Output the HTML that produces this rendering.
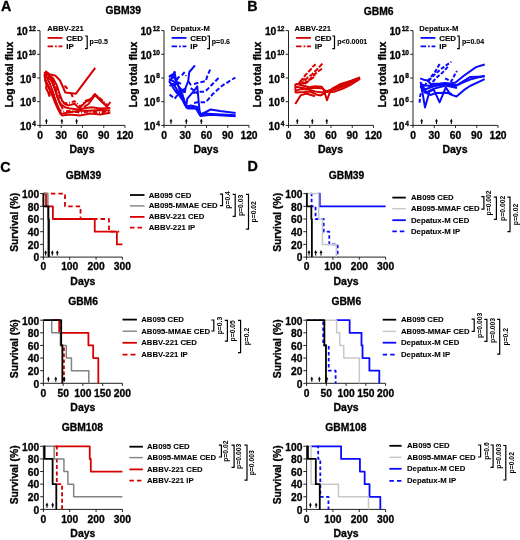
<!DOCTYPE html>
<html><head><meta charset="utf-8"><style>
html,body{margin:0;padding:0;background:#fff;}
svg{display:block;font-family:'Liberation Sans', Arial, sans-serif;}
text{stroke:#000;stroke-width:0.3px;}
text.sm{stroke-width:0.08px;}
text.pv{stroke:none;}
text.md{stroke-width:0.15px;}
</style></head><body>
<svg width="520" height="540" viewBox="0 0 520 540">
<rect width="520" height="540" fill="#fff"/>
<text x="0.90" y="11.00" font-size="14.3" text-anchor="start" font-weight="bold" fill="#000">A</text>
<text x="247.30" y="11.40" font-size="14.3" text-anchor="start" font-weight="bold" fill="#000">B</text>
<text x="0.20" y="171.60" font-size="14.3" text-anchor="start" font-weight="bold" fill="#000">C</text>
<text x="247.40" y="171.40" font-size="14.3" text-anchor="start" font-weight="bold" fill="#000">D</text>
<text x="123.20" y="14.40" font-size="10.3" text-anchor="middle" font-weight="bold" fill="#000">GBM39</text>
<text x="378.70" y="14.70" font-size="10.3" text-anchor="middle" font-weight="bold" fill="#000">GBM6</text>
<line x1="40.00" y1="30.60" x2="40.00" y2="125.90" stroke="#222" stroke-width="1"/>
<line x1="39.50" y1="125.40" x2="125.00" y2="125.40" stroke="#222" stroke-width="1"/>
<line x1="37.20" y1="30.60" x2="40.00" y2="30.60" stroke="#222" stroke-width="1"/>
<text x="36.00" y="35.10" font-size="10.3" text-anchor="end" font-weight="bold">10<tspan font-size="6.6" dx="0.8" dy="-4.1">12</tspan></text>
<line x1="37.20" y1="54.30" x2="40.00" y2="54.30" stroke="#222" stroke-width="1"/>
<text x="36.00" y="58.80" font-size="10.3" text-anchor="end" font-weight="bold">10<tspan font-size="6.6" dx="0.8" dy="-4.1">10</tspan></text>
<line x1="37.20" y1="78.00" x2="40.00" y2="78.00" stroke="#222" stroke-width="1"/>
<text x="36.00" y="82.50" font-size="10.3" text-anchor="end" font-weight="bold">10<tspan font-size="6.6" dx="0.8" dy="-4.1">8</tspan></text>
<line x1="37.20" y1="101.70" x2="40.00" y2="101.70" stroke="#222" stroke-width="1"/>
<text x="36.00" y="106.20" font-size="10.3" text-anchor="end" font-weight="bold">10<tspan font-size="6.6" dx="0.8" dy="-4.1">6</tspan></text>
<line x1="37.20" y1="125.40" x2="40.00" y2="125.40" stroke="#222" stroke-width="1"/>
<text x="36.00" y="129.90" font-size="10.3" text-anchor="end" font-weight="bold">10<tspan font-size="6.6" dx="0.8" dy="-4.1">4</tspan></text>
<line x1="40.00" y1="125.40" x2="40.00" y2="127.90" stroke="#222" stroke-width="1"/>
<text x="40.00" y="138.50" font-size="10.3" text-anchor="middle" font-weight="bold" fill="#000">0</text>
<line x1="61.25" y1="125.40" x2="61.25" y2="127.90" stroke="#222" stroke-width="1"/>
<text x="61.25" y="138.50" font-size="10.3" text-anchor="middle" font-weight="bold" fill="#000">30</text>
<line x1="82.50" y1="125.40" x2="82.50" y2="127.90" stroke="#222" stroke-width="1"/>
<text x="82.50" y="138.50" font-size="10.3" text-anchor="middle" font-weight="bold" fill="#000">60</text>
<line x1="103.75" y1="125.40" x2="103.75" y2="127.90" stroke="#222" stroke-width="1"/>
<text x="103.75" y="138.50" font-size="10.3" text-anchor="middle" font-weight="bold" fill="#000">90</text>
<line x1="125.00" y1="125.40" x2="125.00" y2="127.90" stroke="#222" stroke-width="1"/>
<text x="125.00" y="138.50" font-size="10.3" text-anchor="middle" font-weight="bold" fill="#000">120</text>
<text x="82.00" y="152.60" font-size="10.5" text-anchor="middle" font-weight="bold" fill="#000">Days</text>
<text x="12.80" y="74.60" font-size="10.5" text-anchor="middle" font-weight="bold" fill="#000" transform="rotate(-90 12.80 74.60)">Log total flux</text>
<text x="47.30" y="31.40" font-size="7.65" text-anchor="start" font-weight="bold" fill="#000" class="sm">ABBV-221</text>
<line x1="47.60" y1="37.90" x2="62.40" y2="37.90" stroke="#d60000" stroke-width="1.8"/>
<polyline points="47.60,46.30 62.40,46.30" fill="none" stroke="#d60000" stroke-width="1.8" stroke-linejoin="round" stroke-dasharray="5.5 2 1.7 1.7"/>
<text x="66.20" y="40.50" font-size="7.9" text-anchor="start" font-weight="bold" fill="#000" class="md">CED</text>
<text x="66.20" y="49.00" font-size="7.9" text-anchor="start" font-weight="bold" fill="#000" class="md">IP</text>
<path d="M85.00,36.0 H87.20 V48.6 H85.00" fill="none" stroke="#000" stroke-width="1.2"/>
<text x="89.60" y="43.60" font-size="7.05" text-anchor="start" font-weight="bold" fill="#000" class="sm">p=0.5</text>
<line x1="164.00" y1="30.60" x2="164.00" y2="125.90" stroke="#222" stroke-width="1"/>
<line x1="163.50" y1="125.40" x2="249.00" y2="125.40" stroke="#222" stroke-width="1"/>
<line x1="161.20" y1="30.60" x2="164.00" y2="30.60" stroke="#222" stroke-width="1"/>
<text x="160.00" y="35.10" font-size="10.3" text-anchor="end" font-weight="bold">10<tspan font-size="6.6" dx="0.8" dy="-4.1">12</tspan></text>
<line x1="161.20" y1="54.30" x2="164.00" y2="54.30" stroke="#222" stroke-width="1"/>
<text x="160.00" y="58.80" font-size="10.3" text-anchor="end" font-weight="bold">10<tspan font-size="6.6" dx="0.8" dy="-4.1">10</tspan></text>
<line x1="161.20" y1="78.00" x2="164.00" y2="78.00" stroke="#222" stroke-width="1"/>
<text x="160.00" y="82.50" font-size="10.3" text-anchor="end" font-weight="bold">10<tspan font-size="6.6" dx="0.8" dy="-4.1">8</tspan></text>
<line x1="161.20" y1="101.70" x2="164.00" y2="101.70" stroke="#222" stroke-width="1"/>
<text x="160.00" y="106.20" font-size="10.3" text-anchor="end" font-weight="bold">10<tspan font-size="6.6" dx="0.8" dy="-4.1">6</tspan></text>
<line x1="161.20" y1="125.40" x2="164.00" y2="125.40" stroke="#222" stroke-width="1"/>
<text x="160.00" y="129.90" font-size="10.3" text-anchor="end" font-weight="bold">10<tspan font-size="6.6" dx="0.8" dy="-4.1">4</tspan></text>
<line x1="164.00" y1="125.40" x2="164.00" y2="127.90" stroke="#222" stroke-width="1"/>
<text x="164.00" y="138.50" font-size="10.3" text-anchor="middle" font-weight="bold" fill="#000">0</text>
<line x1="185.25" y1="125.40" x2="185.25" y2="127.90" stroke="#222" stroke-width="1"/>
<text x="185.25" y="138.50" font-size="10.3" text-anchor="middle" font-weight="bold" fill="#000">30</text>
<line x1="206.50" y1="125.40" x2="206.50" y2="127.90" stroke="#222" stroke-width="1"/>
<text x="206.50" y="138.50" font-size="10.3" text-anchor="middle" font-weight="bold" fill="#000">60</text>
<line x1="227.75" y1="125.40" x2="227.75" y2="127.90" stroke="#222" stroke-width="1"/>
<text x="227.75" y="138.50" font-size="10.3" text-anchor="middle" font-weight="bold" fill="#000">90</text>
<line x1="249.00" y1="125.40" x2="249.00" y2="127.90" stroke="#222" stroke-width="1"/>
<text x="249.00" y="138.50" font-size="10.3" text-anchor="middle" font-weight="bold" fill="#000">120</text>
<text x="206.00" y="152.60" font-size="10.5" text-anchor="middle" font-weight="bold" fill="#000">Days</text>
<text x="136.80" y="74.60" font-size="10.5" text-anchor="middle" font-weight="bold" fill="#000" transform="rotate(-90 136.80 74.60)">Log total flux</text>
<text x="170.80" y="31.40" font-size="7.65" text-anchor="start" font-weight="bold" fill="#000" class="sm">Depatux-M</text>
<line x1="171.60" y1="37.90" x2="186.40" y2="37.90" stroke="#0a0aff" stroke-width="1.8"/>
<polyline points="171.60,46.30 186.40,46.30" fill="none" stroke="#0a0aff" stroke-width="1.8" stroke-linejoin="round" stroke-dasharray="5.5 2 1.7 1.7"/>
<text x="190.20" y="40.50" font-size="7.9" text-anchor="start" font-weight="bold" fill="#000" class="md">CED</text>
<text x="190.20" y="49.00" font-size="7.9" text-anchor="start" font-weight="bold" fill="#000" class="md">IP</text>
<path d="M207.20,36.0 H209.40 V48.6 H207.20" fill="none" stroke="#000" stroke-width="1.2"/>
<text x="211.80" y="43.60" font-size="7.05" text-anchor="start" font-weight="bold" fill="#000" class="sm">p=0.6</text>
<line x1="288.50" y1="30.60" x2="288.50" y2="125.90" stroke="#222" stroke-width="1"/>
<line x1="288.00" y1="125.40" x2="373.50" y2="125.40" stroke="#222" stroke-width="1"/>
<line x1="285.70" y1="30.60" x2="288.50" y2="30.60" stroke="#222" stroke-width="1"/>
<text x="284.50" y="35.10" font-size="10.3" text-anchor="end" font-weight="bold">10<tspan font-size="6.6" dx="0.8" dy="-4.1">12</tspan></text>
<line x1="285.70" y1="54.30" x2="288.50" y2="54.30" stroke="#222" stroke-width="1"/>
<text x="284.50" y="58.80" font-size="10.3" text-anchor="end" font-weight="bold">10<tspan font-size="6.6" dx="0.8" dy="-4.1">10</tspan></text>
<line x1="285.70" y1="78.00" x2="288.50" y2="78.00" stroke="#222" stroke-width="1"/>
<text x="284.50" y="82.50" font-size="10.3" text-anchor="end" font-weight="bold">10<tspan font-size="6.6" dx="0.8" dy="-4.1">8</tspan></text>
<line x1="285.70" y1="101.70" x2="288.50" y2="101.70" stroke="#222" stroke-width="1"/>
<text x="284.50" y="106.20" font-size="10.3" text-anchor="end" font-weight="bold">10<tspan font-size="6.6" dx="0.8" dy="-4.1">6</tspan></text>
<line x1="285.70" y1="125.40" x2="288.50" y2="125.40" stroke="#222" stroke-width="1"/>
<text x="284.50" y="129.90" font-size="10.3" text-anchor="end" font-weight="bold">10<tspan font-size="6.6" dx="0.8" dy="-4.1">4</tspan></text>
<line x1="288.50" y1="125.40" x2="288.50" y2="127.90" stroke="#222" stroke-width="1"/>
<text x="288.50" y="138.50" font-size="10.3" text-anchor="middle" font-weight="bold" fill="#000">0</text>
<line x1="309.75" y1="125.40" x2="309.75" y2="127.90" stroke="#222" stroke-width="1"/>
<text x="309.75" y="138.50" font-size="10.3" text-anchor="middle" font-weight="bold" fill="#000">30</text>
<line x1="331.00" y1="125.40" x2="331.00" y2="127.90" stroke="#222" stroke-width="1"/>
<text x="331.00" y="138.50" font-size="10.3" text-anchor="middle" font-weight="bold" fill="#000">60</text>
<line x1="352.25" y1="125.40" x2="352.25" y2="127.90" stroke="#222" stroke-width="1"/>
<text x="352.25" y="138.50" font-size="10.3" text-anchor="middle" font-weight="bold" fill="#000">90</text>
<line x1="373.50" y1="125.40" x2="373.50" y2="127.90" stroke="#222" stroke-width="1"/>
<text x="373.50" y="138.50" font-size="10.3" text-anchor="middle" font-weight="bold" fill="#000">120</text>
<text x="330.50" y="152.60" font-size="10.5" text-anchor="middle" font-weight="bold" fill="#000">Days</text>
<text x="261.30" y="74.60" font-size="10.5" text-anchor="middle" font-weight="bold" fill="#000" transform="rotate(-90 261.30 74.60)">Log total flux</text>
<text x="294.50" y="31.40" font-size="7.65" text-anchor="start" font-weight="bold" fill="#000" class="sm">ABBV-221</text>
<line x1="296.10" y1="37.90" x2="310.90" y2="37.90" stroke="#d60000" stroke-width="1.8"/>
<polyline points="296.10,46.30 310.90,46.30" fill="none" stroke="#d60000" stroke-width="1.8" stroke-linejoin="round" stroke-dasharray="5.5 2 1.7 1.7"/>
<text x="314.70" y="40.50" font-size="7.9" text-anchor="start" font-weight="bold" fill="#000" class="md">CED</text>
<text x="314.70" y="49.00" font-size="7.9" text-anchor="start" font-weight="bold" fill="#000" class="md">IP</text>
<path d="M332.30,36.0 H334.50 V48.6 H332.30" fill="none" stroke="#000" stroke-width="1.2"/>
<text x="337.30" y="43.60" font-size="7.05" text-anchor="start" font-weight="bold" fill="#000" class="sm">p&lt;0.0001</text>
<line x1="413.00" y1="30.60" x2="413.00" y2="125.90" stroke="#222" stroke-width="1"/>
<line x1="412.50" y1="125.40" x2="498.00" y2="125.40" stroke="#222" stroke-width="1"/>
<line x1="410.20" y1="30.60" x2="413.00" y2="30.60" stroke="#222" stroke-width="1"/>
<text x="409.00" y="35.10" font-size="10.3" text-anchor="end" font-weight="bold">10<tspan font-size="6.6" dx="0.8" dy="-4.1">12</tspan></text>
<line x1="410.20" y1="54.30" x2="413.00" y2="54.30" stroke="#222" stroke-width="1"/>
<text x="409.00" y="58.80" font-size="10.3" text-anchor="end" font-weight="bold">10<tspan font-size="6.6" dx="0.8" dy="-4.1">10</tspan></text>
<line x1="410.20" y1="78.00" x2="413.00" y2="78.00" stroke="#222" stroke-width="1"/>
<text x="409.00" y="82.50" font-size="10.3" text-anchor="end" font-weight="bold">10<tspan font-size="6.6" dx="0.8" dy="-4.1">8</tspan></text>
<line x1="410.20" y1="101.70" x2="413.00" y2="101.70" stroke="#222" stroke-width="1"/>
<text x="409.00" y="106.20" font-size="10.3" text-anchor="end" font-weight="bold">10<tspan font-size="6.6" dx="0.8" dy="-4.1">6</tspan></text>
<line x1="410.20" y1="125.40" x2="413.00" y2="125.40" stroke="#222" stroke-width="1"/>
<text x="409.00" y="129.90" font-size="10.3" text-anchor="end" font-weight="bold">10<tspan font-size="6.6" dx="0.8" dy="-4.1">4</tspan></text>
<line x1="413.00" y1="125.40" x2="413.00" y2="127.90" stroke="#222" stroke-width="1"/>
<text x="413.00" y="138.50" font-size="10.3" text-anchor="middle" font-weight="bold" fill="#000">0</text>
<line x1="434.25" y1="125.40" x2="434.25" y2="127.90" stroke="#222" stroke-width="1"/>
<text x="434.25" y="138.50" font-size="10.3" text-anchor="middle" font-weight="bold" fill="#000">30</text>
<line x1="455.50" y1="125.40" x2="455.50" y2="127.90" stroke="#222" stroke-width="1"/>
<text x="455.50" y="138.50" font-size="10.3" text-anchor="middle" font-weight="bold" fill="#000">60</text>
<line x1="476.75" y1="125.40" x2="476.75" y2="127.90" stroke="#222" stroke-width="1"/>
<text x="476.75" y="138.50" font-size="10.3" text-anchor="middle" font-weight="bold" fill="#000">90</text>
<line x1="498.00" y1="125.40" x2="498.00" y2="127.90" stroke="#222" stroke-width="1"/>
<text x="498.00" y="138.50" font-size="10.3" text-anchor="middle" font-weight="bold" fill="#000">120</text>
<text x="455.00" y="152.60" font-size="10.5" text-anchor="middle" font-weight="bold" fill="#000">Days</text>
<text x="385.80" y="74.60" font-size="10.5" text-anchor="middle" font-weight="bold" fill="#000" transform="rotate(-90 385.80 74.60)">Log total flux</text>
<text x="419.30" y="31.40" font-size="7.65" text-anchor="start" font-weight="bold" fill="#000" class="sm">Depatux-M</text>
<line x1="420.60" y1="37.90" x2="435.40" y2="37.90" stroke="#0a0aff" stroke-width="1.8"/>
<polyline points="420.60,46.30 435.40,46.30" fill="none" stroke="#0a0aff" stroke-width="1.8" stroke-linejoin="round" stroke-dasharray="5.5 2 1.7 1.7"/>
<text x="439.20" y="40.50" font-size="7.9" text-anchor="start" font-weight="bold" fill="#000" class="md">CED</text>
<text x="439.20" y="49.00" font-size="7.9" text-anchor="start" font-weight="bold" fill="#000" class="md">IP</text>
<path d="M457.00,36.0 H459.20 V48.6 H457.00" fill="none" stroke="#000" stroke-width="1.2"/>
<text x="462.00" y="43.60" font-size="7.05" text-anchor="start" font-weight="bold" fill="#000" class="sm">p=0.04</text>
<path d="M46.40,118.70 L47.90,121.60 L44.90,121.60 Z" fill="#000"/>
<line x1="46.40" y1="121.00" x2="46.40" y2="124.00" stroke="#000" stroke-width="1.1"/>
<path d="M61.90,118.70 L63.40,121.60 L60.40,121.60 Z" fill="#000"/>
<line x1="61.90" y1="121.00" x2="61.90" y2="124.00" stroke="#000" stroke-width="1.1"/>
<path d="M76.60,118.70 L78.10,121.60 L75.10,121.60 Z" fill="#000"/>
<line x1="76.60" y1="121.00" x2="76.60" y2="124.00" stroke="#000" stroke-width="1.1"/>
<path d="M171.00,118.70 L172.50,121.60 L169.50,121.60 Z" fill="#000"/>
<line x1="171.00" y1="121.00" x2="171.00" y2="124.00" stroke="#000" stroke-width="1.1"/>
<path d="M186.30,118.70 L187.80,121.60 L184.80,121.60 Z" fill="#000"/>
<line x1="186.30" y1="121.00" x2="186.30" y2="124.00" stroke="#000" stroke-width="1.1"/>
<path d="M201.30,118.70 L202.80,121.60 L199.80,121.60 Z" fill="#000"/>
<line x1="201.30" y1="121.00" x2="201.30" y2="124.00" stroke="#000" stroke-width="1.1"/>
<path d="M297.30,118.70 L298.80,121.60 L295.80,121.60 Z" fill="#000"/>
<line x1="297.30" y1="121.00" x2="297.30" y2="124.00" stroke="#000" stroke-width="1.1"/>
<path d="M312.30,118.70 L313.80,121.60 L310.80,121.60 Z" fill="#000"/>
<line x1="312.30" y1="121.00" x2="312.30" y2="124.00" stroke="#000" stroke-width="1.1"/>
<path d="M326.80,118.70 L328.30,121.60 L325.30,121.60 Z" fill="#000"/>
<line x1="326.80" y1="121.00" x2="326.80" y2="124.00" stroke="#000" stroke-width="1.1"/>
<path d="M421.70,118.70 L423.20,121.60 L420.20,121.60 Z" fill="#000"/>
<line x1="421.70" y1="121.00" x2="421.70" y2="124.00" stroke="#000" stroke-width="1.1"/>
<path d="M436.50,118.70 L438.00,121.60 L435.00,121.60 Z" fill="#000"/>
<line x1="436.50" y1="121.00" x2="436.50" y2="124.00" stroke="#000" stroke-width="1.1"/>
<path d="M451.30,118.70 L452.80,121.60 L449.80,121.60 Z" fill="#000"/>
<line x1="451.30" y1="121.00" x2="451.30" y2="124.00" stroke="#000" stroke-width="1.1"/>
<line x1="43.40" y1="193.10" x2="43.40" y2="257.60" stroke="#222" stroke-width="1"/>
<line x1="42.90" y1="257.10" x2="122.40" y2="257.10" stroke="#222" stroke-width="1"/>
<line x1="40.20" y1="193.60" x2="43.40" y2="193.60" stroke="#222" stroke-width="1"/>
<text x="39.20" y="197.90" font-size="10.3" text-anchor="end" font-weight="bold" fill="#000">100</text>
<line x1="40.20" y1="206.30" x2="43.40" y2="206.30" stroke="#222" stroke-width="1"/>
<text x="39.20" y="210.60" font-size="10.3" text-anchor="end" font-weight="bold" fill="#000">80</text>
<line x1="40.20" y1="219.00" x2="43.40" y2="219.00" stroke="#222" stroke-width="1"/>
<text x="39.20" y="223.30" font-size="10.3" text-anchor="end" font-weight="bold" fill="#000">60</text>
<line x1="40.20" y1="231.70" x2="43.40" y2="231.70" stroke="#222" stroke-width="1"/>
<text x="39.20" y="236.00" font-size="10.3" text-anchor="end" font-weight="bold" fill="#000">40</text>
<line x1="40.20" y1="244.40" x2="43.40" y2="244.40" stroke="#222" stroke-width="1"/>
<text x="39.20" y="248.70" font-size="10.3" text-anchor="end" font-weight="bold" fill="#000">20</text>
<line x1="40.20" y1="257.10" x2="43.40" y2="257.10" stroke="#222" stroke-width="1"/>
<text x="39.20" y="261.40" font-size="10.3" text-anchor="end" font-weight="bold" fill="#000">0</text>
<line x1="43.40" y1="257.10" x2="43.40" y2="259.70" stroke="#222" stroke-width="1"/>
<text x="43.40" y="270.40" font-size="10.3" text-anchor="middle" font-weight="bold" fill="#000">0</text>
<line x1="69.73" y1="257.10" x2="69.73" y2="259.70" stroke="#222" stroke-width="1"/>
<text x="69.73" y="270.40" font-size="10.3" text-anchor="middle" font-weight="bold" fill="#000">100</text>
<line x1="96.07" y1="257.10" x2="96.07" y2="259.70" stroke="#222" stroke-width="1"/>
<text x="96.07" y="270.40" font-size="10.3" text-anchor="middle" font-weight="bold" fill="#000">200</text>
<line x1="122.40" y1="257.10" x2="122.40" y2="259.70" stroke="#222" stroke-width="1"/>
<text x="122.40" y="270.40" font-size="10.3" text-anchor="middle" font-weight="bold" fill="#000">300</text>
<text x="82.90" y="284.90" font-size="10.5" text-anchor="middle" font-weight="bold" fill="#000">Days</text>
<text x="18.00" y="222.35" font-size="10.3" text-anchor="middle" font-weight="bold" fill="#000" transform="rotate(-90 18.00 222.35)">Survival (%)</text>
<text x="83.40" y="178.60" font-size="10.3" text-anchor="middle" font-weight="bold" fill="#000">GBM39</text>
<line x1="43.40" y1="319.70" x2="43.40" y2="383.80" stroke="#222" stroke-width="1"/>
<line x1="42.90" y1="383.30" x2="122.40" y2="383.30" stroke="#222" stroke-width="1"/>
<line x1="40.20" y1="320.20" x2="43.40" y2="320.20" stroke="#222" stroke-width="1"/>
<text x="39.20" y="324.50" font-size="10.3" text-anchor="end" font-weight="bold" fill="#000">100</text>
<line x1="40.20" y1="332.82" x2="43.40" y2="332.82" stroke="#222" stroke-width="1"/>
<text x="39.20" y="337.12" font-size="10.3" text-anchor="end" font-weight="bold" fill="#000">80</text>
<line x1="40.20" y1="345.44" x2="43.40" y2="345.44" stroke="#222" stroke-width="1"/>
<text x="39.20" y="349.74" font-size="10.3" text-anchor="end" font-weight="bold" fill="#000">60</text>
<line x1="40.20" y1="358.06" x2="43.40" y2="358.06" stroke="#222" stroke-width="1"/>
<text x="39.20" y="362.36" font-size="10.3" text-anchor="end" font-weight="bold" fill="#000">40</text>
<line x1="40.20" y1="370.68" x2="43.40" y2="370.68" stroke="#222" stroke-width="1"/>
<text x="39.20" y="374.98" font-size="10.3" text-anchor="end" font-weight="bold" fill="#000">20</text>
<line x1="40.20" y1="383.30" x2="43.40" y2="383.30" stroke="#222" stroke-width="1"/>
<text x="39.20" y="387.60" font-size="10.3" text-anchor="end" font-weight="bold" fill="#000">0</text>
<line x1="43.40" y1="383.30" x2="43.40" y2="385.90" stroke="#222" stroke-width="1"/>
<text x="43.40" y="396.60" font-size="10.3" text-anchor="middle" font-weight="bold" fill="#000">0</text>
<line x1="63.15" y1="383.30" x2="63.15" y2="385.90" stroke="#222" stroke-width="1"/>
<text x="63.15" y="396.60" font-size="10.3" text-anchor="middle" font-weight="bold" fill="#000">50</text>
<line x1="82.90" y1="383.30" x2="82.90" y2="385.90" stroke="#222" stroke-width="1"/>
<text x="82.90" y="396.60" font-size="10.3" text-anchor="middle" font-weight="bold" fill="#000">100</text>
<line x1="102.65" y1="383.30" x2="102.65" y2="385.90" stroke="#222" stroke-width="1"/>
<text x="102.65" y="396.60" font-size="10.3" text-anchor="middle" font-weight="bold" fill="#000">150</text>
<line x1="122.40" y1="383.30" x2="122.40" y2="385.90" stroke="#222" stroke-width="1"/>
<text x="122.40" y="396.60" font-size="10.3" text-anchor="middle" font-weight="bold" fill="#000">200</text>
<text x="82.90" y="411.10" font-size="10.5" text-anchor="middle" font-weight="bold" fill="#000">Days</text>
<text x="18.00" y="348.75" font-size="10.3" text-anchor="middle" font-weight="bold" fill="#000" transform="rotate(-90 18.00 348.75)">Survival (%)</text>
<text x="83.00" y="305.20" font-size="10.3" text-anchor="middle" font-weight="bold" fill="#000">GBM6</text>
<line x1="43.40" y1="445.80" x2="43.40" y2="509.90" stroke="#222" stroke-width="1"/>
<line x1="42.90" y1="509.40" x2="122.40" y2="509.40" stroke="#222" stroke-width="1"/>
<line x1="40.20" y1="446.30" x2="43.40" y2="446.30" stroke="#222" stroke-width="1"/>
<text x="39.20" y="450.60" font-size="10.3" text-anchor="end" font-weight="bold" fill="#000">100</text>
<line x1="40.20" y1="458.92" x2="43.40" y2="458.92" stroke="#222" stroke-width="1"/>
<text x="39.20" y="463.22" font-size="10.3" text-anchor="end" font-weight="bold" fill="#000">80</text>
<line x1="40.20" y1="471.54" x2="43.40" y2="471.54" stroke="#222" stroke-width="1"/>
<text x="39.20" y="475.84" font-size="10.3" text-anchor="end" font-weight="bold" fill="#000">60</text>
<line x1="40.20" y1="484.16" x2="43.40" y2="484.16" stroke="#222" stroke-width="1"/>
<text x="39.20" y="488.46" font-size="10.3" text-anchor="end" font-weight="bold" fill="#000">40</text>
<line x1="40.20" y1="496.78" x2="43.40" y2="496.78" stroke="#222" stroke-width="1"/>
<text x="39.20" y="501.08" font-size="10.3" text-anchor="end" font-weight="bold" fill="#000">20</text>
<line x1="40.20" y1="509.40" x2="43.40" y2="509.40" stroke="#222" stroke-width="1"/>
<text x="39.20" y="513.70" font-size="10.3" text-anchor="end" font-weight="bold" fill="#000">0</text>
<line x1="43.40" y1="509.40" x2="43.40" y2="512.00" stroke="#222" stroke-width="1"/>
<text x="43.40" y="522.70" font-size="10.3" text-anchor="middle" font-weight="bold" fill="#000">0</text>
<line x1="69.73" y1="509.40" x2="69.73" y2="512.00" stroke="#222" stroke-width="1"/>
<text x="69.73" y="522.70" font-size="10.3" text-anchor="middle" font-weight="bold" fill="#000">100</text>
<line x1="96.07" y1="509.40" x2="96.07" y2="512.00" stroke="#222" stroke-width="1"/>
<text x="96.07" y="522.70" font-size="10.3" text-anchor="middle" font-weight="bold" fill="#000">200</text>
<line x1="122.40" y1="509.40" x2="122.40" y2="512.00" stroke="#222" stroke-width="1"/>
<text x="122.40" y="522.70" font-size="10.3" text-anchor="middle" font-weight="bold" fill="#000">300</text>
<text x="82.90" y="537.20" font-size="10.5" text-anchor="middle" font-weight="bold" fill="#000">Days</text>
<text x="18.00" y="474.85" font-size="10.3" text-anchor="middle" font-weight="bold" fill="#000" transform="rotate(-90 18.00 474.85)">Survival (%)</text>
<text x="82.30" y="431.30" font-size="10.3" text-anchor="middle" font-weight="bold" fill="#000">GBM108</text>
<line x1="306.60" y1="193.10" x2="306.60" y2="257.60" stroke="#222" stroke-width="1"/>
<line x1="306.10" y1="257.10" x2="385.60" y2="257.10" stroke="#222" stroke-width="1"/>
<line x1="303.40" y1="193.60" x2="306.60" y2="193.60" stroke="#222" stroke-width="1"/>
<text x="302.40" y="197.90" font-size="10.3" text-anchor="end" font-weight="bold" fill="#000">100</text>
<line x1="303.40" y1="206.30" x2="306.60" y2="206.30" stroke="#222" stroke-width="1"/>
<text x="302.40" y="210.60" font-size="10.3" text-anchor="end" font-weight="bold" fill="#000">80</text>
<line x1="303.40" y1="219.00" x2="306.60" y2="219.00" stroke="#222" stroke-width="1"/>
<text x="302.40" y="223.30" font-size="10.3" text-anchor="end" font-weight="bold" fill="#000">60</text>
<line x1="303.40" y1="231.70" x2="306.60" y2="231.70" stroke="#222" stroke-width="1"/>
<text x="302.40" y="236.00" font-size="10.3" text-anchor="end" font-weight="bold" fill="#000">40</text>
<line x1="303.40" y1="244.40" x2="306.60" y2="244.40" stroke="#222" stroke-width="1"/>
<text x="302.40" y="248.70" font-size="10.3" text-anchor="end" font-weight="bold" fill="#000">20</text>
<line x1="303.40" y1="257.10" x2="306.60" y2="257.10" stroke="#222" stroke-width="1"/>
<text x="302.40" y="261.40" font-size="10.3" text-anchor="end" font-weight="bold" fill="#000">0</text>
<line x1="306.60" y1="257.10" x2="306.60" y2="259.70" stroke="#222" stroke-width="1"/>
<text x="306.60" y="270.40" font-size="10.3" text-anchor="middle" font-weight="bold" fill="#000">0</text>
<line x1="332.93" y1="257.10" x2="332.93" y2="259.70" stroke="#222" stroke-width="1"/>
<text x="332.93" y="270.40" font-size="10.3" text-anchor="middle" font-weight="bold" fill="#000">100</text>
<line x1="359.27" y1="257.10" x2="359.27" y2="259.70" stroke="#222" stroke-width="1"/>
<text x="359.27" y="270.40" font-size="10.3" text-anchor="middle" font-weight="bold" fill="#000">200</text>
<line x1="385.60" y1="257.10" x2="385.60" y2="259.70" stroke="#222" stroke-width="1"/>
<text x="385.60" y="270.40" font-size="10.3" text-anchor="middle" font-weight="bold" fill="#000">300</text>
<text x="346.10" y="284.90" font-size="10.5" text-anchor="middle" font-weight="bold" fill="#000">Days</text>
<text x="281.20" y="222.35" font-size="10.3" text-anchor="middle" font-weight="bold" fill="#000" transform="rotate(-90 281.20 222.35)">Survival (%)</text>
<text x="346.50" y="178.60" font-size="10.3" text-anchor="middle" font-weight="bold" fill="#000">GBM39</text>
<line x1="306.60" y1="319.70" x2="306.60" y2="383.80" stroke="#222" stroke-width="1"/>
<line x1="306.10" y1="383.30" x2="385.60" y2="383.30" stroke="#222" stroke-width="1"/>
<line x1="303.40" y1="320.20" x2="306.60" y2="320.20" stroke="#222" stroke-width="1"/>
<text x="302.40" y="324.50" font-size="10.3" text-anchor="end" font-weight="bold" fill="#000">100</text>
<line x1="303.40" y1="332.82" x2="306.60" y2="332.82" stroke="#222" stroke-width="1"/>
<text x="302.40" y="337.12" font-size="10.3" text-anchor="end" font-weight="bold" fill="#000">80</text>
<line x1="303.40" y1="345.44" x2="306.60" y2="345.44" stroke="#222" stroke-width="1"/>
<text x="302.40" y="349.74" font-size="10.3" text-anchor="end" font-weight="bold" fill="#000">60</text>
<line x1="303.40" y1="358.06" x2="306.60" y2="358.06" stroke="#222" stroke-width="1"/>
<text x="302.40" y="362.36" font-size="10.3" text-anchor="end" font-weight="bold" fill="#000">40</text>
<line x1="303.40" y1="370.68" x2="306.60" y2="370.68" stroke="#222" stroke-width="1"/>
<text x="302.40" y="374.98" font-size="10.3" text-anchor="end" font-weight="bold" fill="#000">20</text>
<line x1="303.40" y1="383.30" x2="306.60" y2="383.30" stroke="#222" stroke-width="1"/>
<text x="302.40" y="387.60" font-size="10.3" text-anchor="end" font-weight="bold" fill="#000">0</text>
<line x1="306.60" y1="383.30" x2="306.60" y2="385.90" stroke="#222" stroke-width="1"/>
<text x="306.60" y="396.60" font-size="10.3" text-anchor="middle" font-weight="bold" fill="#000">0</text>
<line x1="326.35" y1="383.30" x2="326.35" y2="385.90" stroke="#222" stroke-width="1"/>
<text x="326.35" y="396.60" font-size="10.3" text-anchor="middle" font-weight="bold" fill="#000">50</text>
<line x1="346.10" y1="383.30" x2="346.10" y2="385.90" stroke="#222" stroke-width="1"/>
<text x="346.10" y="396.60" font-size="10.3" text-anchor="middle" font-weight="bold" fill="#000">100</text>
<line x1="365.85" y1="383.30" x2="365.85" y2="385.90" stroke="#222" stroke-width="1"/>
<text x="365.85" y="396.60" font-size="10.3" text-anchor="middle" font-weight="bold" fill="#000">150</text>
<line x1="385.60" y1="383.30" x2="385.60" y2="385.90" stroke="#222" stroke-width="1"/>
<text x="385.60" y="396.60" font-size="10.3" text-anchor="middle" font-weight="bold" fill="#000">200</text>
<text x="346.10" y="411.10" font-size="10.5" text-anchor="middle" font-weight="bold" fill="#000">Days</text>
<text x="281.20" y="348.75" font-size="10.3" text-anchor="middle" font-weight="bold" fill="#000" transform="rotate(-90 281.20 348.75)">Survival (%)</text>
<text x="346.30" y="305.20" font-size="10.3" text-anchor="middle" font-weight="bold" fill="#000">GBM6</text>
<line x1="306.60" y1="445.80" x2="306.60" y2="509.90" stroke="#222" stroke-width="1"/>
<line x1="306.10" y1="509.40" x2="385.60" y2="509.40" stroke="#222" stroke-width="1"/>
<line x1="303.40" y1="446.30" x2="306.60" y2="446.30" stroke="#222" stroke-width="1"/>
<text x="302.40" y="450.60" font-size="10.3" text-anchor="end" font-weight="bold" fill="#000">100</text>
<line x1="303.40" y1="458.92" x2="306.60" y2="458.92" stroke="#222" stroke-width="1"/>
<text x="302.40" y="463.22" font-size="10.3" text-anchor="end" font-weight="bold" fill="#000">80</text>
<line x1="303.40" y1="471.54" x2="306.60" y2="471.54" stroke="#222" stroke-width="1"/>
<text x="302.40" y="475.84" font-size="10.3" text-anchor="end" font-weight="bold" fill="#000">60</text>
<line x1="303.40" y1="484.16" x2="306.60" y2="484.16" stroke="#222" stroke-width="1"/>
<text x="302.40" y="488.46" font-size="10.3" text-anchor="end" font-weight="bold" fill="#000">40</text>
<line x1="303.40" y1="496.78" x2="306.60" y2="496.78" stroke="#222" stroke-width="1"/>
<text x="302.40" y="501.08" font-size="10.3" text-anchor="end" font-weight="bold" fill="#000">20</text>
<line x1="303.40" y1="509.40" x2="306.60" y2="509.40" stroke="#222" stroke-width="1"/>
<text x="302.40" y="513.70" font-size="10.3" text-anchor="end" font-weight="bold" fill="#000">0</text>
<line x1="306.60" y1="509.40" x2="306.60" y2="512.00" stroke="#222" stroke-width="1"/>
<text x="306.60" y="522.70" font-size="10.3" text-anchor="middle" font-weight="bold" fill="#000">0</text>
<line x1="332.93" y1="509.40" x2="332.93" y2="512.00" stroke="#222" stroke-width="1"/>
<text x="332.93" y="522.70" font-size="10.3" text-anchor="middle" font-weight="bold" fill="#000">100</text>
<line x1="359.27" y1="509.40" x2="359.27" y2="512.00" stroke="#222" stroke-width="1"/>
<text x="359.27" y="522.70" font-size="10.3" text-anchor="middle" font-weight="bold" fill="#000">200</text>
<line x1="385.60" y1="509.40" x2="385.60" y2="512.00" stroke="#222" stroke-width="1"/>
<text x="385.60" y="522.70" font-size="10.3" text-anchor="middle" font-weight="bold" fill="#000">300</text>
<text x="346.10" y="537.20" font-size="10.5" text-anchor="middle" font-weight="bold" fill="#000">Days</text>
<text x="281.20" y="474.85" font-size="10.3" text-anchor="middle" font-weight="bold" fill="#000" transform="rotate(-90 281.20 474.85)">Survival (%)</text>
<text x="345.90" y="431.30" font-size="10.3" text-anchor="middle" font-weight="bold" fill="#000">GBM108</text>
<polyline points="43.40,193.60 64.99,193.60 64.99,206.30 80.53,206.30 80.53,219.00 108.97,219.00 108.97,231.70 119.24,231.70" fill="none" stroke="#d60000" stroke-width="1.8" stroke-linejoin="round" stroke-dasharray="4.5 3"/>
<polyline points="43.40,193.60 46.03,193.60 46.03,206.30 52.88,206.30 52.88,219.00 94.75,219.00 94.75,231.70 116.87,231.70 116.87,244.40 122.40,244.40" fill="none" stroke="#d60000" stroke-width="1.8" stroke-linejoin="round"/>
<polyline points="43.40,193.60 47.88,193.60 47.88,257.10" fill="none" stroke="#828282" stroke-width="1.5" stroke-linejoin="round"/>
<polyline points="43.40,193.60 43.40,193.60 43.40,206.30 48.40,206.30 48.40,219.00 48.93,219.00 48.93,257.10" fill="none" stroke="#000" stroke-width="1.8" stroke-linejoin="round"/>
<polyline points="55.25,320.20 61.17,320.20 61.17,345.44 63.94,345.44 63.94,383.30" fill="none" stroke="#d60000" stroke-width="1.8" stroke-linejoin="round" stroke-dasharray="3.5 2.5"/>
<polyline points="51.30,320.20 59.20,320.20 59.20,332.82 88.43,332.82 88.43,345.44 93.17,345.44 93.17,358.06 98.31,358.06 98.31,383.30" fill="none" stroke="#d60000" stroke-width="1.8" stroke-linejoin="round"/>
<polyline points="43.40,320.20 51.70,320.20 51.70,332.82 60.38,332.82 60.38,345.44 66.31,345.44 66.31,358.06 71.44,358.06 71.44,370.68 88.82,370.68 88.82,383.30" fill="none" stroke="#828282" stroke-width="1.5" stroke-linejoin="round"/>
<polyline points="43.40,320.20 61.17,320.20 61.17,345.44 62.36,345.44 62.36,383.30" fill="none" stroke="#000" stroke-width="1.8" stroke-linejoin="round"/>
<polyline points="56.04,446.30 56.83,446.30 56.83,484.16 62.10,484.16 62.10,509.40" fill="none" stroke="#d60000" stroke-width="1.8" stroke-linejoin="round" stroke-dasharray="4 2.5"/>
<polyline points="53.93,446.30 89.75,446.30 89.75,458.92 90.80,458.92 90.80,471.54 122.40,471.54" fill="none" stroke="#d60000" stroke-width="1.8" stroke-linejoin="round"/>
<polyline points="43.40,446.30 54.20,446.30 54.20,458.92 63.94,458.92 63.94,471.54 67.89,471.54 67.89,484.16 73.68,484.16 73.68,496.78 122.40,496.78" fill="none" stroke="#828282" stroke-width="1.5" stroke-linejoin="round"/>
<polyline points="43.40,446.30 44.59,446.30 44.59,458.92 52.62,458.92 52.62,484.16 56.30,484.16 56.30,509.40" fill="none" stroke="#000" stroke-width="1.8" stroke-linejoin="round"/>
<polyline points="310.81,193.60 311.60,193.60 311.60,206.30 315.55,206.30 315.55,219.00 323.72,219.00 323.72,231.70 329.25,231.70 329.25,244.40 337.67,244.40 337.67,257.10" fill="none" stroke="#0a0aff" stroke-width="1.8" stroke-linejoin="round" stroke-dasharray="3.5 2.5"/>
<polyline points="318.45,193.60 319.77,193.60 319.77,206.30 385.60,206.30" fill="none" stroke="#0a0aff" stroke-width="1.8" stroke-linejoin="round"/>
<polyline points="306.60,193.60 318.71,193.60 318.71,219.00 322.40,219.00 322.40,244.40 336.36,244.40 336.36,257.10" fill="none" stroke="#c8c8c8" stroke-width="1.5" stroke-linejoin="round"/>
<polyline points="306.60,193.60 306.86,193.60 306.86,206.30 311.34,206.30 311.34,219.00 311.87,219.00 311.87,257.10" fill="none" stroke="#000" stroke-width="1.8" stroke-linejoin="round"/>
<polyline points="306.60,320.20 323.19,320.20 323.19,345.44 328.72,345.44 328.72,370.68 335.63,370.68 335.63,383.30" fill="none" stroke="#0a0aff" stroke-width="1.8" stroke-linejoin="round" stroke-dasharray="3.5 2.5"/>
<polyline points="336.23,320.20 349.66,320.20 349.66,332.82 361.50,332.82 361.50,345.44 362.53,345.44 362.53,358.06 369.41,358.06 369.41,370.68 379.28,370.68 379.28,383.30" fill="none" stroke="#0a0aff" stroke-width="1.8" stroke-linejoin="round"/>
<polyline points="306.60,320.20 336.62,320.20 336.62,332.82 339.78,332.82 339.78,345.44 343.73,345.44 343.73,358.06 359.33,358.06 359.33,383.30" fill="none" stroke="#c8c8c8" stroke-width="1.5" stroke-linejoin="round"/>
<polyline points="306.60,320.20 324.38,320.20 324.38,345.44 325.96,345.44 325.96,383.30" fill="none" stroke="#000" stroke-width="1.8" stroke-linejoin="round"/>
<polyline points="316.61,446.30 318.19,446.30 318.19,458.92 320.29,458.92 320.29,496.78 328.46,496.78 328.46,509.40" fill="none" stroke="#0a0aff" stroke-width="1.8" stroke-linejoin="round" stroke-dasharray="3.5 2.5"/>
<polyline points="310.81,446.30 341.10,446.30 341.10,458.92 359.93,458.92 359.93,471.54 364.67,471.54 364.67,484.16 369.54,484.16 369.54,496.78 380.33,496.78 380.33,509.40" fill="none" stroke="#0a0aff" stroke-width="1.8" stroke-linejoin="round"/>
<polyline points="306.60,446.30 311.08,446.30 311.08,484.16 338.46,484.16 338.46,496.78 368.48,496.78 368.48,509.40" fill="none" stroke="#c8c8c8" stroke-width="1.5" stroke-linejoin="round"/>
<polyline points="306.60,446.30 307.92,446.30 307.92,458.92 315.82,458.92 315.82,484.16 319.77,484.16 319.77,509.40" fill="none" stroke="#000" stroke-width="1.8" stroke-linejoin="round"/>
<path d="M45.60,250.30 L47.10,253.20 L44.10,253.20 Z" fill="#000"/>
<line x1="45.60" y1="252.60" x2="45.60" y2="255.60" stroke="#000" stroke-width="1.1"/>
<path d="M52.30,250.30 L53.80,253.20 L50.80,253.20 Z" fill="#000"/>
<line x1="52.30" y1="252.60" x2="52.30" y2="255.60" stroke="#000" stroke-width="1.1"/>
<path d="M57.30,250.30 L58.80,253.20 L55.80,253.20 Z" fill="#000"/>
<line x1="57.30" y1="252.60" x2="57.30" y2="255.60" stroke="#000" stroke-width="1.1"/>
<path d="M48.40,376.50 L49.90,379.40 L46.90,379.40 Z" fill="#000"/>
<line x1="48.40" y1="378.80" x2="48.40" y2="381.80" stroke="#000" stroke-width="1.1"/>
<path d="M55.80,376.50 L57.30,379.40 L54.30,379.40 Z" fill="#000"/>
<line x1="55.80" y1="378.80" x2="55.80" y2="381.80" stroke="#000" stroke-width="1.1"/>
<path d="M64.20,376.50 L65.70,379.40 L62.70,379.40 Z" fill="#000"/>
<line x1="64.20" y1="378.80" x2="64.20" y2="381.80" stroke="#000" stroke-width="1.1"/>
<path d="M47.00,502.50 L48.50,505.40 L45.50,505.40 Z" fill="#000"/>
<line x1="47.00" y1="504.80" x2="47.00" y2="507.80" stroke="#000" stroke-width="1.1"/>
<path d="M52.70,502.50 L54.20,505.40 L51.20,505.40 Z" fill="#000"/>
<line x1="52.70" y1="504.80" x2="52.70" y2="507.80" stroke="#000" stroke-width="1.1"/>
<path d="M309.00,250.10 L310.50,253.00 L307.50,253.00 Z" fill="#000"/>
<line x1="309.00" y1="252.40" x2="309.00" y2="255.40" stroke="#000" stroke-width="1.1"/>
<path d="M315.70,250.10 L317.20,253.00 L314.20,253.00 Z" fill="#000"/>
<line x1="315.70" y1="252.40" x2="315.70" y2="255.40" stroke="#000" stroke-width="1.1"/>
<path d="M321.00,250.10 L322.50,253.00 L319.50,253.00 Z" fill="#000"/>
<line x1="321.00" y1="252.40" x2="321.00" y2="255.40" stroke="#000" stroke-width="1.1"/>
<path d="M311.80,376.50 L313.30,379.40 L310.30,379.40 Z" fill="#000"/>
<line x1="311.80" y1="378.80" x2="311.80" y2="381.80" stroke="#000" stroke-width="1.1"/>
<path d="M319.40,376.50 L320.90,379.40 L317.90,379.40 Z" fill="#000"/>
<line x1="319.40" y1="378.80" x2="319.40" y2="381.80" stroke="#000" stroke-width="1.1"/>
<path d="M326.80,376.50 L328.30,379.40 L325.30,379.40 Z" fill="#000"/>
<line x1="326.80" y1="378.80" x2="326.80" y2="381.80" stroke="#000" stroke-width="1.1"/>
<path d="M310.40,502.50 L311.90,505.40 L308.90,505.40 Z" fill="#000"/>
<line x1="310.40" y1="504.80" x2="310.40" y2="507.80" stroke="#000" stroke-width="1.1"/>
<path d="M316.10,502.50 L317.60,505.40 L314.60,505.40 Z" fill="#000"/>
<line x1="316.10" y1="504.80" x2="316.10" y2="507.80" stroke="#000" stroke-width="1.1"/>
<line x1="130.00" y1="195.00" x2="144.50" y2="195.00" stroke="#000" stroke-width="1.8"/>
<text x="148.70" y="197.50" font-size="7.78" text-anchor="start" font-weight="bold" fill="#000" class="sm">AB095 CED</text>
<line x1="130.00" y1="205.90" x2="144.50" y2="205.90" stroke="#828282" stroke-width="1.4"/>
<text x="148.70" y="208.40" font-size="7.78" text-anchor="start" font-weight="bold" fill="#000" class="sm">AB095-MMAE CED</text>
<line x1="130.00" y1="216.90" x2="144.50" y2="216.90" stroke="#d60000" stroke-width="1.8"/>
<text x="148.70" y="219.40" font-size="7.78" text-anchor="start" font-weight="bold" fill="#000" class="sm">ABBV-221 CED</text>
<polyline points="130.00,227.70 144.50,227.70" fill="none" stroke="#d60000" stroke-width="1.8" stroke-linejoin="round" stroke-dasharray="4.5 3"/>
<text x="148.70" y="230.20" font-size="7.78" text-anchor="start" font-weight="bold" fill="#000" class="sm">ABBV-221 IP</text>
<line x1="122.50" y1="319.60" x2="136.90" y2="319.60" stroke="#000" stroke-width="1.8"/>
<text x="141.20" y="322.10" font-size="7.78" text-anchor="start" font-weight="bold" fill="#000" class="sm">AB095 CED</text>
<line x1="122.50" y1="331.20" x2="136.90" y2="331.20" stroke="#828282" stroke-width="1.4"/>
<text x="141.20" y="333.70" font-size="7.78" text-anchor="start" font-weight="bold" fill="#000" class="sm">AB095-MMAE CED</text>
<line x1="122.50" y1="342.80" x2="136.90" y2="342.80" stroke="#d60000" stroke-width="1.8"/>
<text x="141.20" y="345.30" font-size="7.78" text-anchor="start" font-weight="bold" fill="#000" class="sm">ABBV-221 CED</text>
<polyline points="122.50,354.60 136.90,354.60" fill="none" stroke="#d60000" stroke-width="1.8" stroke-linejoin="round" stroke-dasharray="5 3"/>
<text x="141.20" y="357.10" font-size="7.78" text-anchor="start" font-weight="bold" fill="#000" class="sm">ABBV-221 IP</text>
<line x1="129.40" y1="446.70" x2="142.90" y2="446.70" stroke="#000" stroke-width="1.8"/>
<text x="147.00" y="449.20" font-size="7.78" text-anchor="start" font-weight="bold" fill="#000" class="sm">AB095 CED</text>
<line x1="129.40" y1="457.60" x2="142.90" y2="457.60" stroke="#828282" stroke-width="1.4"/>
<text x="147.00" y="460.10" font-size="7.78" text-anchor="start" font-weight="bold" fill="#000" class="sm">AB095-MMAE CED</text>
<line x1="129.40" y1="469.40" x2="142.90" y2="469.40" stroke="#d60000" stroke-width="1.8"/>
<text x="147.00" y="471.90" font-size="7.78" text-anchor="start" font-weight="bold" fill="#000" class="sm">ABBV-221 CED</text>
<polyline points="129.40,480.60 142.90,480.60" fill="none" stroke="#d60000" stroke-width="1.8" stroke-linejoin="round" stroke-dasharray="4.5 3"/>
<text x="147.00" y="483.10" font-size="7.78" text-anchor="start" font-weight="bold" fill="#000" class="sm">ABBV-221 IP</text>
<line x1="392.30" y1="197.60" x2="405.80" y2="197.60" stroke="#000" stroke-width="1.8"/>
<text x="411.00" y="200.10" font-size="7.78" text-anchor="start" font-weight="bold" fill="#000" class="sm">AB095 CED</text>
<line x1="392.30" y1="208.70" x2="405.80" y2="208.70" stroke="#c8c8c8" stroke-width="1.4"/>
<text x="411.00" y="211.20" font-size="7.78" text-anchor="start" font-weight="bold" fill="#000" class="sm">AB095-MMAF CED</text>
<line x1="392.30" y1="220.20" x2="405.80" y2="220.20" stroke="#0a0aff" stroke-width="1.8"/>
<text x="411.00" y="222.70" font-size="7.78" text-anchor="start" font-weight="bold" fill="#000" class="sm">Depatux-M CED</text>
<polyline points="392.30,231.40 405.80,231.40" fill="none" stroke="#0a0aff" stroke-width="1.8" stroke-linejoin="round" stroke-dasharray="4.5 3"/>
<text x="411.00" y="233.90" font-size="7.78" text-anchor="start" font-weight="bold" fill="#000" class="sm">Depatux-M IP</text>
<line x1="382.70" y1="319.70" x2="396.20" y2="319.70" stroke="#000" stroke-width="1.8"/>
<text x="401.00" y="322.20" font-size="7.78" text-anchor="start" font-weight="bold" fill="#000" class="sm">AB095 CED</text>
<line x1="382.70" y1="331.40" x2="396.20" y2="331.40" stroke="#c8c8c8" stroke-width="1.4"/>
<text x="401.00" y="333.90" font-size="7.78" text-anchor="start" font-weight="bold" fill="#000" class="sm">AB095-MMAF CED</text>
<line x1="382.70" y1="342.70" x2="396.20" y2="342.70" stroke="#0a0aff" stroke-width="1.8"/>
<text x="401.00" y="345.20" font-size="7.78" text-anchor="start" font-weight="bold" fill="#000" class="sm">Depatux-M CED</text>
<polyline points="382.70,354.60 396.20,354.60" fill="none" stroke="#0a0aff" stroke-width="1.8" stroke-linejoin="round" stroke-dasharray="4.5 3"/>
<text x="401.00" y="357.10" font-size="7.78" text-anchor="start" font-weight="bold" fill="#000" class="sm">Depatux-M IP</text>
<line x1="389.40" y1="445.80" x2="401.60" y2="445.80" stroke="#000" stroke-width="1.8"/>
<text x="407.00" y="448.30" font-size="7.78" text-anchor="start" font-weight="bold" fill="#000" class="sm">AB095 CED</text>
<line x1="389.40" y1="457.30" x2="401.60" y2="457.30" stroke="#c8c8c8" stroke-width="1.4"/>
<text x="407.00" y="459.80" font-size="7.78" text-anchor="start" font-weight="bold" fill="#000" class="sm">AB095-MMAF CED</text>
<line x1="389.40" y1="468.80" x2="401.60" y2="468.80" stroke="#0a0aff" stroke-width="1.8"/>
<text x="407.00" y="471.30" font-size="7.78" text-anchor="start" font-weight="bold" fill="#000" class="sm">Depatux-M CED</text>
<polyline points="389.40,480.80 401.60,480.80" fill="none" stroke="#0a0aff" stroke-width="1.8" stroke-linejoin="round" stroke-dasharray="4.5 3"/>
<text x="407.00" y="483.30" font-size="7.78" text-anchor="start" font-weight="bold" fill="#000" class="sm">Depatux-M IP</text>
<path d="M219.90,194.10 H222.50 V205.70 H219.90" fill="none" stroke="#000" stroke-width="1.2"/>
<text x="230.10" y="199.90" font-size="6.8" text-anchor="middle" font-weight="bold" fill="#000" transform="rotate(-90 230.10 199.90)" class="pv">p=0.4</text>
<path d="M232.60,194.40 H235.20 V216.30 H232.60" fill="none" stroke="#000" stroke-width="1.2"/>
<text x="243.10" y="205.35" font-size="6.8" text-anchor="middle" font-weight="bold" fill="#000" transform="rotate(-90 243.10 205.35)" class="pv">p=0.03</text>
<path d="M245.90,194.40 H248.50 V229.20 H245.90" fill="none" stroke="#000" stroke-width="1.2"/>
<text x="256.50" y="211.80" font-size="6.8" text-anchor="middle" font-weight="bold" fill="#000" transform="rotate(-90 256.50 211.80)" class="pv">p=0.02</text>
<path d="M211.20,320.00 H213.80 V331.00 H211.20" fill="none" stroke="#000" stroke-width="1.2"/>
<text x="222.10" y="325.50" font-size="6.8" text-anchor="middle" font-weight="bold" fill="#000" transform="rotate(-90 222.10 325.50)" class="pv">p=0.3</text>
<path d="M224.80,320.40 H227.40 V341.20 H224.80" fill="none" stroke="#000" stroke-width="1.2"/>
<text x="235.40" y="330.80" font-size="6.8" text-anchor="middle" font-weight="bold" fill="#000" transform="rotate(-90 235.40 330.80)" class="pv">p=0.05</text>
<path d="M238.00,320.40 H240.60 V352.60 H238.00" fill="none" stroke="#000" stroke-width="1.2"/>
<text x="249.00" y="336.50" font-size="6.8" text-anchor="middle" font-weight="bold" fill="#000" transform="rotate(-90 249.00 336.50)" class="pv">p=0.2</text>
<path d="M218.80,445.20 H221.40 V457.00 H218.80" fill="none" stroke="#000" stroke-width="1.2"/>
<text x="228.50" y="451.10" font-size="6.8" text-anchor="middle" font-weight="bold" fill="#000" transform="rotate(-90 228.50 451.10)" class="pv">p=0.02</text>
<path d="M231.50,445.20 H234.10 V467.40 H231.50" fill="none" stroke="#000" stroke-width="1.2"/>
<text x="241.00" y="456.30" font-size="6.8" text-anchor="middle" font-weight="bold" fill="#000" transform="rotate(-90 241.00 456.30)" class="pv">p=0.003</text>
<path d="M244.40,445.20 H247.00 V480.20 H244.40" fill="none" stroke="#000" stroke-width="1.2"/>
<text x="254.00" y="462.70" font-size="6.8" text-anchor="middle" font-weight="bold" fill="#000" transform="rotate(-90 254.00 462.70)" class="pv">p=0.003</text>
<path d="M481.30,196.70 H483.90 V209.10 H481.30" fill="none" stroke="#000" stroke-width="1.2"/>
<text x="491.50" y="202.90" font-size="6.8" text-anchor="middle" font-weight="bold" fill="#000" transform="rotate(-90 491.50 202.90)" class="pv">p=0.002</text>
<path d="M493.80,197.20 H496.40 V219.40 H493.80" fill="none" stroke="#000" stroke-width="1.2"/>
<text x="504.60" y="208.30" font-size="6.8" text-anchor="middle" font-weight="bold" fill="#000" transform="rotate(-90 504.60 208.30)" class="pv">p=0.002</text>
<path d="M507.40,197.20 H510.00 V231.70 H507.40" fill="none" stroke="#000" stroke-width="1.2"/>
<text x="517.90" y="214.45" font-size="6.8" text-anchor="middle" font-weight="bold" fill="#000" transform="rotate(-90 517.90 214.45)" class="pv">p=0.02</text>
<path d="M471.60,319.20 H474.20 V331.40 H471.60" fill="none" stroke="#000" stroke-width="1.2"/>
<text x="481.80" y="325.30" font-size="6.8" text-anchor="middle" font-weight="bold" fill="#000" transform="rotate(-90 481.80 325.30)" class="pv">p=0.003</text>
<path d="M484.30,319.40 H486.90 V341.40 H484.30" fill="none" stroke="#000" stroke-width="1.2"/>
<text x="494.60" y="330.40" font-size="6.8" text-anchor="middle" font-weight="bold" fill="#000" transform="rotate(-90 494.60 330.40)" class="pv">p=0.003</text>
<path d="M497.10,319.40 H499.70 V354.10 H497.10" fill="none" stroke="#000" stroke-width="1.2"/>
<text x="507.90" y="336.75" font-size="6.8" text-anchor="middle" font-weight="bold" fill="#000" transform="rotate(-90 507.90 336.75)" class="pv">p=0.2</text>
<path d="M478.00,445.00 H480.60 V457.00 H478.00" fill="none" stroke="#000" stroke-width="1.2"/>
<text x="488.50" y="451.00" font-size="6.8" text-anchor="middle" font-weight="bold" fill="#000" transform="rotate(-90 488.50 451.00)" class="pv">p=0.6</text>
<path d="M490.50,445.00 H493.10 V467.40 H490.50" fill="none" stroke="#000" stroke-width="1.2"/>
<text x="500.90" y="456.20" font-size="6.8" text-anchor="middle" font-weight="bold" fill="#000" transform="rotate(-90 500.90 456.20)" class="pv">p=0.003</text>
<path d="M503.20,445.50 H505.80 V480.00 H503.20" fill="none" stroke="#000" stroke-width="1.2"/>
<text x="514.00" y="462.75" font-size="6.8" text-anchor="middle" font-weight="bold" fill="#000" transform="rotate(-90 514.00 462.75)" class="pv">p=0.02</text>
<polyline points="45.30,71.00 49.60,74.20 55.40,75.60 60.00,80.50 62.50,86.00 65.30,92.50 70.00,93.00 75.90,93.70 95.20,67.80" fill="none" stroke="#d60000" stroke-width="2.0" stroke-linejoin="round"/>
<polyline points="46.00,73.50 52.50,77.50 56.80,85.20 59.20,92.90 62.10,100.60 65.50,104.50 68.80,105.40 74.60,103.80 79.20,108.40 86.10,101.50 90.80,99.20 95.00,94.20 107.00,106.50 110.50,102.00" fill="none" stroke="#d60000" stroke-width="2.0" stroke-linejoin="round"/>
<polyline points="45.00,76.00 51.50,80.40 55.40,91.00 58.30,99.70 61.20,104.50 65.00,107.30 68.80,108.30 78.00,109.60 86.00,108.00 92.00,107.30 100.00,108.50 110.30,108.00" fill="none" stroke="#d60000" stroke-width="2.0" stroke-linejoin="round"/>
<polyline points="45.00,79.00 48.70,87.20 53.50,94.80 56.30,102.50 59.20,109.30 60.70,114.10 65.00,113.10 68.80,112.20 80.40,110.70 88.40,110.70 100.00,110.00 110.30,110.50" fill="none" stroke="#d60000" stroke-width="2.0" stroke-linejoin="round"/>
<polyline points="46.00,82.00 50.00,90.00 54.00,100.00 57.50,108.00 60.00,113.00 62.00,115.50 70.00,114.50 80.00,115.50 90.00,113.50 100.00,114.50 110.30,112.70" fill="none" stroke="#d60000" stroke-width="2.0" stroke-linejoin="round"/>
<polyline points="47.00,78.00 50.00,84.00 53.00,92.00 55.00,100.00 58.00,108.00 61.00,113.00" fill="none" stroke="#d60000" stroke-width="2.0" stroke-linejoin="round"/>
<polyline points="48.00,75.00 52.00,82.00 55.00,88.00 57.00,96.00 60.00,104.00 63.00,109.00" fill="none" stroke="#d60000" stroke-width="2.0" stroke-linejoin="round"/>
<polyline points="44.50,72.00 46.00,76.00 45.00,80.00 47.00,84.00 46.00,88.00 48.00,92.00 49.60,96.80" fill="none" stroke="#d60000" stroke-width="2.0" stroke-linejoin="round"/>
<polyline points="50.00,77.00 53.00,80.00 54.00,86.00" fill="none" stroke="#d60000" stroke-width="2.0" stroke-linejoin="round"/>
<polyline points="85.00,101.00 88.50,100.00 92.00,98.50 95.00,95.00 101.00,101.00 107.00,106.50" fill="none" stroke="#d60000" stroke-width="2.0" stroke-linejoin="round"/>
<polyline points="84.00,107.00 88.50,104.00 92.10,99.20 95.10,93.90" fill="none" stroke="#d60000" stroke-width="2.0" stroke-linejoin="round"/>
<polyline points="45.00,72.00 48.00,76.00 52.00,80.00 56.00,88.00 60.00,98.00 64.00,103.50 70.00,102.70 74.60,101.20 80.40,106.50 85.40,101.50 90.80,99.20 95.00,94.20 103.00,101.00 108.00,105.50" fill="none" stroke="#d60000" stroke-width="2.0" stroke-linejoin="round" stroke-dasharray="4.5 1.8 0.9 1.8"/>
<polyline points="44.50,74.00 45.00,80.00 47.00,86.00 49.60,94.00 49.80,97.50" fill="none" stroke="#d60000" stroke-width="2.0" stroke-linejoin="round" stroke-dasharray="4.5 1.8 0.9 1.8"/>
<polyline points="64.30,86.70 65.50,86.30 67.70,89.10" fill="none" stroke="#d60000" stroke-width="2.0" stroke-linejoin="round" stroke-dasharray="4.5 1.8 0.9 1.8"/>
<polyline points="71.10,93.00 72.70,97.10" fill="none" stroke="#d60000" stroke-width="2.0" stroke-linejoin="round" stroke-dasharray="4.5 1.8 0.9 1.8"/>
<polyline points="47.00,84.00 52.00,92.00 56.00,104.00 59.00,110.00 64.00,111.50 70.00,111.00 80.00,112.50 90.00,111.50 100.00,112.50 110.30,111.00" fill="none" stroke="#d60000" stroke-width="2.0" stroke-linejoin="round" stroke-dasharray="4.5 1.8 0.9 1.8"/>
<polyline points="169.00,77.00 172.00,74.50 175.00,79.00 178.00,85.00 182.00,93.00 186.20,106.40 191.00,105.50 197.30,107.00 200.70,114.20 206.00,112.00 210.70,109.40 220.00,111.00 235.60,113.00" fill="none" stroke="#0a0aff" stroke-width="2.0" stroke-linejoin="round"/>
<polyline points="169.00,82.00 172.00,78.00 174.50,72.00 176.00,80.00 179.00,88.00 183.00,99.00 186.50,107.50 192.00,107.50 197.00,109.00 200.00,115.00 204.60,113.50 212.00,114.00 235.60,115.20" fill="none" stroke="#0a0aff" stroke-width="2.0" stroke-linejoin="round"/>
<polyline points="169.50,86.00 173.00,84.00 176.00,88.00 180.00,95.00 185.00,105.00 188.00,108.50 196.00,108.50 200.50,116.00 210.70,114.70 235.60,116.30" fill="none" stroke="#0a0aff" stroke-width="2.0" stroke-linejoin="round"/>
<polyline points="179.60,87.60 184.00,92.00 188.20,81.00 189.30,72.00 195.00,65.30" fill="none" stroke="#0a0aff" stroke-width="2.0" stroke-linejoin="round"/>
<polyline points="186.20,106.00 187.30,98.70 194.00,90.90 197.30,86.40 198.50,100.00 199.80,113.00" fill="none" stroke="#0a0aff" stroke-width="2.0" stroke-linejoin="round"/>
<polyline points="188.20,81.00 191.00,85.20" fill="none" stroke="#0a0aff" stroke-width="2.0" stroke-linejoin="round"/>
<polyline points="169.00,76.00 173.00,77.00 178.00,80.00" fill="none" stroke="#0a0aff" stroke-width="2.0" stroke-linejoin="round"/>
<polyline points="169.00,79.00 173.00,81.00 177.00,84.00" fill="none" stroke="#0a0aff" stroke-width="2.0" stroke-linejoin="round"/>
<polyline points="169.00,82.00 172.00,84.00 176.00,86.00" fill="none" stroke="#0a0aff" stroke-width="2.0" stroke-linejoin="round"/>
<polyline points="170.00,85.00 175.00,84.00 179.00,84.00" fill="none" stroke="#0a0aff" stroke-width="2.0" stroke-linejoin="round"/>
<polyline points="172.00,78.00 175.00,71.50" fill="none" stroke="#0a0aff" stroke-width="2.0" stroke-linejoin="round"/>
<polyline points="176.00,80.00 179.50,76.50" fill="none" stroke="#0a0aff" stroke-width="2.0" stroke-linejoin="round"/>
<polyline points="178.00,82.00 181.00,84.00" fill="none" stroke="#0a0aff" stroke-width="2.0" stroke-linejoin="round"/>
<polyline points="172.00,86.00 176.00,92.00 179.00,95.00" fill="none" stroke="#0a0aff" stroke-width="2.0" stroke-linejoin="round"/>
<polyline points="175.60,90.20 179.00,95.00 181.90,99.30" fill="none" stroke="#0a0aff" stroke-width="2.0" stroke-linejoin="round"/>
<polyline points="181.90,90.20 185.40,88.80 184.70,93.00" fill="none" stroke="#0a0aff" stroke-width="2.0" stroke-linejoin="round"/>
<polyline points="181.90,75.40 184.00,72.60 186.10,76.10" fill="none" stroke="#0a0aff" stroke-width="2.0" stroke-linejoin="round" stroke-dasharray="4.5 2.2"/>
<polyline points="169.60,94.40 172.00,96.50 174.60,98.70 177.30,95.30 180.00,90.00" fill="none" stroke="#0a0aff" stroke-width="2.0" stroke-linejoin="round" stroke-dasharray="4.5 2.2"/>
<polyline points="194.00,84.00 199.80,82.30 205.80,81.10 207.00,76.90 210.10,69.60" fill="none" stroke="#0a0aff" stroke-width="2.0" stroke-linejoin="round" stroke-dasharray="4.5 2.2"/>
<polyline points="193.00,93.00 198.60,91.90 205.20,91.60 213.10,83.50 219.70,76.90" fill="none" stroke="#0a0aff" stroke-width="2.0" stroke-linejoin="round" stroke-dasharray="4.5 2.2"/>
<polyline points="194.00,103.00 197.40,102.20 205.80,102.20 213.10,93.70 222.70,85.30 235.40,77.50" fill="none" stroke="#0a0aff" stroke-width="2.0" stroke-linejoin="round" stroke-dasharray="4.5 2.2"/>
<polyline points="190.70,88.10 197.30,93.10" fill="none" stroke="#0a0aff" stroke-width="2.0" stroke-linejoin="round" stroke-dasharray="4.5 2.2"/>
<polyline points="295.30,83.80 299.60,84.80 309.20,87.20 315.00,86.30 321.70,86.70 323.70,89.60 327.00,100.20 329.40,93.50 332.30,88.70 340.00,84.30 351.20,80.80 360.00,77.40" fill="none" stroke="#d60000" stroke-width="2.0" stroke-linejoin="round"/>
<polyline points="295.30,86.70 307.30,88.70 312.10,87.70 321.70,88.20 326.50,91.50 332.00,90.00 343.00,86.50 351.00,82.50 360.00,78.20" fill="none" stroke="#d60000" stroke-width="2.0" stroke-linejoin="round"/>
<polyline points="295.30,90.60 301.50,89.10 309.20,89.60 315.00,91.50 322.70,92.50 326.50,91.50 333.00,92.00 343.00,88.50 351.20,84.50 360.00,79.00" fill="none" stroke="#d60000" stroke-width="2.0" stroke-linejoin="round"/>
<polyline points="295.30,92.50 304.40,92.00 310.20,91.50 316.00,94.40 320.80,95.40 325.60,92.50 328.50,90.60 336.00,87.50 348.00,82.50 360.00,77.80" fill="none" stroke="#d60000" stroke-width="2.0" stroke-linejoin="round"/>
<polyline points="295.30,104.00 300.60,95.40 306.30,93.50 315.00,96.30" fill="none" stroke="#d60000" stroke-width="2.0" stroke-linejoin="round"/>
<polyline points="295.30,84.00 295.60,93.00" fill="none" stroke="#d60000" stroke-width="2.0" stroke-linejoin="round"/>
<polyline points="300.00,82.00 305.20,75.30 310.70,69.50 312.70,66.70 315.60,64.30" fill="none" stroke="#d60000" stroke-width="2.0" stroke-linejoin="round" stroke-dasharray="5 1.5"/>
<polyline points="300.00,85.00 307.50,77.60 312.00,74.50 317.40,69.00 322.50,63.50" fill="none" stroke="#d60000" stroke-width="2.0" stroke-linejoin="round" stroke-dasharray="5 1.5"/>
<polyline points="303.00,84.00 309.80,79.40 314.50,74.50 318.00,71.50 322.00,68.70" fill="none" stroke="#d60000" stroke-width="2.0" stroke-linejoin="round" stroke-dasharray="5 1.5"/>
<polyline points="305.00,84.00 309.80,80.00 315.60,75.90" fill="none" stroke="#d60000" stroke-width="2.0" stroke-linejoin="round" stroke-dasharray="5 1.5"/>
<polyline points="298.00,84.50 301.00,81.00 305.00,79.00" fill="none" stroke="#d60000" stroke-width="2.0" stroke-linejoin="round" stroke-dasharray="5 1.5"/>
<polyline points="420.20,78.30 423.50,79.70 427.50,80.40 430.60,84.00 439.90,83.50 445.10,83.00 450.30,83.50 455.50,82.50 463.80,75.70 476.00,67.10 484.70,64.50" fill="none" stroke="#0a0aff" stroke-width="2.0" stroke-linejoin="round"/>
<polyline points="420.80,82.80 425.00,107.40 429.60,91.20 433.80,89.70 439.60,102.40 445.80,87.40 450.30,94.40 456.50,96.50 463.80,90.20 470.00,86.00 484.70,79.20" fill="none" stroke="#0a0aff" stroke-width="2.0" stroke-linejoin="round"/>
<polyline points="420.20,87.10 425.40,89.20 434.70,86.10 445.10,84.00 455.50,86.10 463.80,82.00 470.80,79.20 484.70,75.80" fill="none" stroke="#0a0aff" stroke-width="2.0" stroke-linejoin="round"/>
<polyline points="420.20,84.40 430.00,86.00 446.00,84.00 457.00,85.00 470.00,77.00 484.70,76.60" fill="none" stroke="#0a0aff" stroke-width="2.0" stroke-linejoin="round"/>
<polyline points="420.40,85.80 425.00,92.80 428.80,91.20 433.50,88.90 440.00,87.00 446.00,85.50 457.00,88.00" fill="none" stroke="#0a0aff" stroke-width="2.0" stroke-linejoin="round"/>
<polyline points="420.40,82.00 426.50,92.80 430.40,95.00 436.00,93.00 445.80,92.80 452.00,94.00" fill="none" stroke="#0a0aff" stroke-width="2.0" stroke-linejoin="round"/>
<polyline points="419.60,102.80 420.00,96.60 421.20,92.00 424.00,87.00 427.00,82.00 430.00,78.00 435.00,72.00 440.00,63.30" fill="none" stroke="#0a0aff" stroke-width="2.0" stroke-linejoin="round" stroke-dasharray="4 1.8"/>
<polyline points="428.50,81.00 434.00,75.00 441.00,69.00 451.30,61.70" fill="none" stroke="#0a0aff" stroke-width="2.0" stroke-linejoin="round" stroke-dasharray="4 1.8"/>
<polyline points="432.70,82.00 436.00,78.00 442.00,73.10 448.20,66.40" fill="none" stroke="#0a0aff" stroke-width="2.0" stroke-linejoin="round" stroke-dasharray="4 1.8"/>
<polyline points="445.10,78.30 451.30,81.40 455.00,74.30 457.00,71.00" fill="none" stroke="#0a0aff" stroke-width="2.0" stroke-linejoin="round" stroke-dasharray="4 1.8"/>
</svg>
</body></html>
